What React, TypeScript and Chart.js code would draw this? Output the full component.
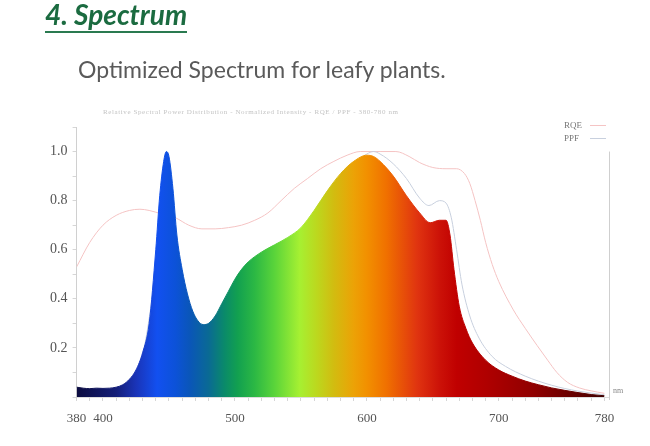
import React, { useEffect, useRef } from "react";
import { Chart, registerables } from "chart.js";

Chart.register(...registerables);

// ---- Data ----
const spectrumWl = [380, 385, 390, 395, 400, 405, 410, 415, 420, 425, 430, 435, 440, 443, 446, 448, 450, 453, 456, 460, 464, 468, 472, 476, 480, 485, 490, 495, 500, 505, 510, 520, 530, 540, 550, 560, 570, 580, 590, 600, 605, 610, 620, 630, 640, 648, 655, 660, 663, 666, 670, 675, 680, 690, 700, 710, 720, 730, 740, 750, 760, 770, 780];
const spectrumVal = [0.04, 0.036, 0.034, 0.036, 0.035, 0.036, 0.04, 0.05, 0.072, 0.11, 0.18, 0.3, 0.6, 0.82, 0.96, 1.0, 0.98, 0.85, 0.66, 0.52, 0.42, 0.35, 0.31, 0.295, 0.3, 0.33, 0.38, 0.43, 0.48, 0.52, 0.55, 0.59, 0.62, 0.65, 0.69, 0.76, 0.84, 0.91, 0.96, 0.985, 0.98, 0.96, 0.9, 0.82, 0.75, 0.71, 0.72, 0.72, 0.66, 0.52, 0.37, 0.28, 0.22, 0.15, 0.11, 0.085, 0.065, 0.05, 0.037, 0.027, 0.018, 0.01, 0.005];

const ppfWl = [380, 400, 420, 430, 440, 448, 456, 465, 476, 490, 500, 520, 540, 560, 580, 590, 600, 605, 610, 620, 630, 640, 647, 655, 660, 664, 668, 672, 678, 685, 695, 705, 720, 740, 760, 780];
const ppfVal = [0.03, 0.03, 0.06, 0.17, 0.5, 0.78, 0.55, 0.33, 0.24, 0.32, 0.41, 0.53, 0.61, 0.73, 0.88, 0.95, 0.99, 1.0, 0.99, 0.95, 0.89, 0.81, 0.78, 0.8, 0.79, 0.73, 0.6, 0.46, 0.33, 0.24, 0.165, 0.125, 0.085, 0.048, 0.024, 0.009];

const rqeWl = [380, 390, 400, 410, 420, 428, 435, 445, 455, 465, 475, 485, 495, 505, 515, 525, 535, 545, 555, 565, 575, 585, 595, 610, 622, 632, 640, 650, 660, 668, 674, 678, 682, 686, 690, 695, 700, 711, 720, 729, 737, 744, 752, 761, 770, 780];
const rqeVal = [0.53, 0.63, 0.7, 0.74, 0.76, 0.765, 0.76, 0.745, 0.73, 0.7, 0.685, 0.685, 0.69, 0.7, 0.72, 0.75, 0.8, 0.85, 0.89, 0.93, 0.96, 0.985, 1.0, 1.0, 1.0, 0.98, 0.955, 0.935, 0.93, 0.93, 0.91, 0.87, 0.8, 0.72, 0.63, 0.54, 0.47, 0.355, 0.28, 0.21, 0.15, 0.1, 0.06, 0.037, 0.025, 0.015];

const gradWl = [380, 410, 425, 441, 455, 466, 480, 492, 502, 515, 530, 549, 562, 575, 590, 600, 615, 638, 655, 668, 690, 726, 764, 780];
const gradColors = ["#0c0c40", "#141e78", "#1a34b8", "#1250f0", "#0c52d8", "#0a56b8", "#0a6a94", "#0a8a6a", "#12a050", "#2cb844", "#5ad43a", "#a6f032", "#bcd81e", "#d2bc10", "#eca206", "#f29000", "#f07000", "#e03410", "#cc1208", "#c00000", "#b00000", "#900000", "#5c0000", "#3c0000"];

const xTickLabels = [380, 400, 500, 600, 700, 780];
const yTickLabels = [0.2, 0.4, 0.6, 0.8, 1.0];

const toPts = (xs: number[], ys: number[]) => xs.map((x, i) => ({ x, y: ys[i] }));

function spectrumGradient(chart: any) {
  const xs = chart.scales.x;
  if (!xs || !chart.chartArea) return "#1250f0";
  const x0 = xs.getPixelForValue(gradWl[0]);
  const x1 = xs.getPixelForValue(gradWl[gradWl.length - 1]);
  const g = chart.ctx.createLinearGradient(x0, 0, x1, 0);
  gradWl.forEach((w, i) => {
    g.addColorStop((w - gradWl[0]) / (gradWl[gradWl.length - 1] - gradWl[0]), gradColors[i]);
  });
  return g;
}

const rightLinePlugin = {
  id: "rightLine",
  afterDraw(chart: any) {
    const { ctx, chartArea, scales } = chart;
    const y1 = scales.y.getPixelForValue(1.0);
    const y0 = scales.y.getPixelForValue(0);
    ctx.save();
    ctx.strokeStyle = "#cfcfcf";
    ctx.lineWidth = 1;
    ctx.beginPath();
    ctx.moveTo(Math.round(chartArea.right) + 0.5, y1);
    ctx.lineTo(Math.round(chartArea.right) + 0.5, y0 + 3);
    ctx.stroke();
    ctx.restore();
  },
};

export default function App() {
  const ref = useRef<HTMLCanvasElement>(null);

  useEffect(() => {
    document.body.style.margin = "0";
    const canvas = ref.current!;
    const chart = new Chart(canvas, {
      type: "line",
      data: {
        datasets: [
          {
            label: "Spectrum",
            data: toPts(spectrumWl, spectrumVal),
            order: 0,
            fill: "origin",
            backgroundColor: (c: any) => spectrumGradient(c.chart),
            borderColor: (c: any) => spectrumGradient(c.chart),
            borderWidth: 1,
            pointRadius: 0,
            cubicInterpolationMode: "monotone",
          },
          {
            label: "PPF",
            data: toPts(ppfWl, ppfVal),
            order: 1,
            fill: false,
            borderColor: "#c8d0de",
            borderWidth: 1,
            pointRadius: 0,
            cubicInterpolationMode: "monotone",
          },
          {
            label: "RQE",
            data: toPts(rqeWl, rqeVal),
            order: 2,
            fill: false,
            borderColor: "#f5c4c4",
            borderWidth: 1,
            pointRadius: 0,
            cubicInterpolationMode: "monotone",
          },
        ],
      },
      options: {
        animation: false,
        responsive: false,
        maintainAspectRatio: false,
        layout: { padding: { top: 127, right: 41, left: 0, bottom: 0 } },
        plugins: { legend: { display: false }, tooltip: { enabled: false } },
        scales: {
          x: {
            type: "linear",
            min: 380,
            max: 783.5,
            afterBuildTicks: (s: any) => {
              const t = [];
              for (let v = 380; v <= 780; v += 10) t.push({ value: v });
              s.ticks = t;
            },
            afterFit: (s: any) => {
              s.height = 49;
            },
            ticks: {
              autoSkip: false,
              maxRotation: 0,
              padding: 10,
              color: "#555",
              font: { family: "'Liberation Serif', 'DejaVu Serif', serif", size: 13 },
              callback: (v: any) => (xTickLabels.includes(Number(v)) ? String(v) : ""),
            },
            grid: { drawOnChartArea: false, tickLength: 4, color: "#d6d6d6" },
            border: { color: "#dddddd" },
          },
          y: {
            type: "linear",
            min: 0,
            max: 1.1,
            afterBuildTicks: (s: any) => {
              const t = [];
              for (let i = 0; i <= 11; i++) t.push({ value: i / 10 });
              s.ticks = t;
            },
            afterFit: (s: any) => {
              s.width = 76.6;
            },
            ticks: {
              autoSkip: false,
              padding: 5,
              color: "#555",
              font: { family: "'Liberation Serif', 'DejaVu Serif', serif", size: 14 },
              callback: (v: any) => {
                const n = Math.round(Number(v) * 10) / 10;
                return yTickLabels.includes(n) ? n.toFixed(1) : "";
              },
            },
            grid: { drawOnChartArea: false, tickLength: 4, color: "#d6d6d6" },
            border: { color: "#d0d0d0" },
          },
        },
      },
      plugins: [rightLinePlugin],
    } as any);
    return () => chart.destroy();
  }, []);

  return (
    <div style={{ position: "absolute", left: 0, top: 0, width: 650, height: 446, background: "#fff", overflow: "hidden" }}>
      <canvas ref={ref} width={650} height={446} style={{ position: "absolute", left: 0, top: 0, width: 650, height: 446 }} />
      <div
        style={{
          position: "absolute",
          left: 45,
          top: -3,
          fontFamily: "Lato, 'Open Sans', sans-serif",
          fontWeight: 700,
          fontStyle: "italic",
          fontSize: 28,
          color: "#1b6b40",
          lineHeight: "34px",
          whiteSpace: "nowrap",
          borderBottom: "2px solid #2a7a50",
          paddingBottom: 0,
        }}
      >
        4. Spectrum
      </div>
      <div
        style={{
          position: "absolute",
          left: 78,
          top: 55,
          fontFamily: "Lato, 'Open Sans', sans-serif",
          fontSize: 23,
          color: "#5a5a5a",
          lineHeight: "28px",
          whiteSpace: "nowrap",
        }}
      >
        Optimized Spectrum for leafy plants.
      </div>
      <div
        style={{
          position: "absolute",
          left: 103,
          top: 108,
          fontFamily: "'Liberation Serif', serif",
          fontSize: 7,
          color: "#c4c4c4",
          letterSpacing: 0.6,
          whiteSpace: "nowrap",
        }}
      >
        Relative Spectral Power Distribution - Normalized Intensity - RQE / PPF - 380-780 nm
      </div>
      <div style={{ position: "absolute", left: 564, top: 119, fontFamily: "'Liberation Serif', serif", fontSize: 9, color: "#777", lineHeight: "12px" }}>
        <div>RQE</div>
        <div style={{ marginTop: 1 }}>PPF</div>
      </div>
      <div style={{ position: "absolute", left: 590, top: 125, width: 16, height: 1, background: "#f5c4c4" }} />
      <div style={{ position: "absolute", left: 590, top: 138, width: 16, height: 1, background: "#c8d0de" }} />
      <div style={{ position: "absolute", left: 613, top: 386, fontFamily: "'Liberation Serif', serif", fontSize: 8, color: "#888" }}>nm</div>
    </div>
  );
}
